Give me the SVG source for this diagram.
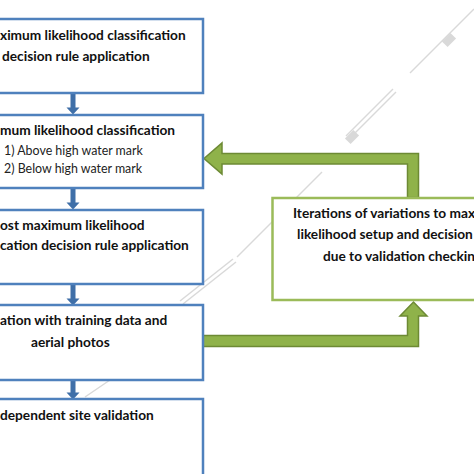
<svg xmlns="http://www.w3.org/2000/svg" width="474" height="474" viewBox="0 0 474 474">
<style>
.box{fill:#fff;stroke:#4f81bd;stroke-width:2.5}
.gbox{fill:#fff;stroke:#9bbb59;stroke-width:2.5}
.t{font-family:Lato,"Open Sans","Liberation Sans",sans-serif;font-size:13.7px;font-weight:bold;fill:#111}
.n{font-family:Lato,"Open Sans","Liberation Sans",sans-serif;font-size:12.4px;fill:#222}
.deco{stroke:#d9d9d9;stroke-width:1.5;fill:none}
.decor{fill:#d9d9d9}
.green{fill:#8fb24a;stroke:#6d8a34;stroke-width:1.5;stroke-linejoin:miter}
.blue{fill:#3f6fa8}
</style>
<rect width="474" height="474" fill="#fff"/>
<g id="decoration">
<line class="deco" x1="474" y1="9" x2="410" y2="73"/>
<rect class="decor" x="443" y="36" width="12" height="8" transform="rotate(-45 449 40)"/>
<line class="deco" x1="393" y1="89" x2="346" y2="136"/>
<line class="deco" x1="396" y1="92" x2="349" y2="139"/>
<rect class="decor" x="346" y="133" width="12" height="8" transform="rotate(-45 352 137)"/>
<line class="deco" x1="322" y1="172" x2="237" y2="257"/>
<line class="deco" x1="233" y1="259" x2="180" y2="301"/>
<line class="deco" x1="236" y1="262" x2="183" y2="304"/>
<line class="deco" x1="110" y1="380" x2="85" y2="397"/>
</g>
<g id="connectors">
<path class="blue" d="M70.5 93.5h5v14h4l-6.5 7l-6.5-7h4z"/>
<path class="blue" d="M70.5 188.5h5v14h4l-6.5 7l-6.5-7h4z"/>
<path class="blue" d="M70.5 284.5h5v14h4l-6.5 7l-6.5-7h4z"/>
<path class="blue" d="M70.5 380.5h5v12h4l-6.5 7l-6.5-7h4z"/>
<path class="green" d="M204 158.5L222 143V153.5H418.5V197.5H407.5V164H222V174Z"/>
<path class="green" d="M203 335.5H407.5V316H400L413.5 302L427 316H418.5V346.5H203Z"/>
</g>
<g id="node1">
<rect class="box" x="-20" y="19" width="223" height="74"/>
<text class="t" x="0" y="40">ximum likelihood classification</text>
<text class="t" x="2" y="61">decision rule application</text>
</g>
<g id="node2">
<rect class="box" x="-20" y="115" width="223" height="73"/>
<text class="t" x="0" y="135">mum likelihood classification</text>
<text class="n" x="4" y="155">1) Above high water mark</text>
<text class="n" x="4" y="173">2) Below high water mark</text>
</g>
<g id="node3">
<rect class="box" x="-20" y="210" width="223" height="74"/>
<text class="t" x="0" y="230">ost maximum likelihood</text>
<text class="t" x="0" y="250">cation decision rule application</text>
</g>
<g id="node4">
<rect class="box" x="-20" y="305" width="223" height="75"/>
<text class="t" x="0" y="325">ation with training data and</text>
<text class="t" x="31" y="347">aerial photos</text>
</g>
<g id="node5">
<rect class="box" x="-20" y="399" width="223" height="90"/>
<text class="t" x="0" y="420">dependent site validation</text>
</g>
<g id="node6">
<rect class="gbox" x="272.5" y="198" width="220" height="102"/>
<text class="t" x="293" y="218">Iterations of variations to max</text>
<text class="t" x="297" y="239">likelihood setup and decision</text>
<text class="t" x="323" y="261">due to validation checking</text>
</g>
</svg>
